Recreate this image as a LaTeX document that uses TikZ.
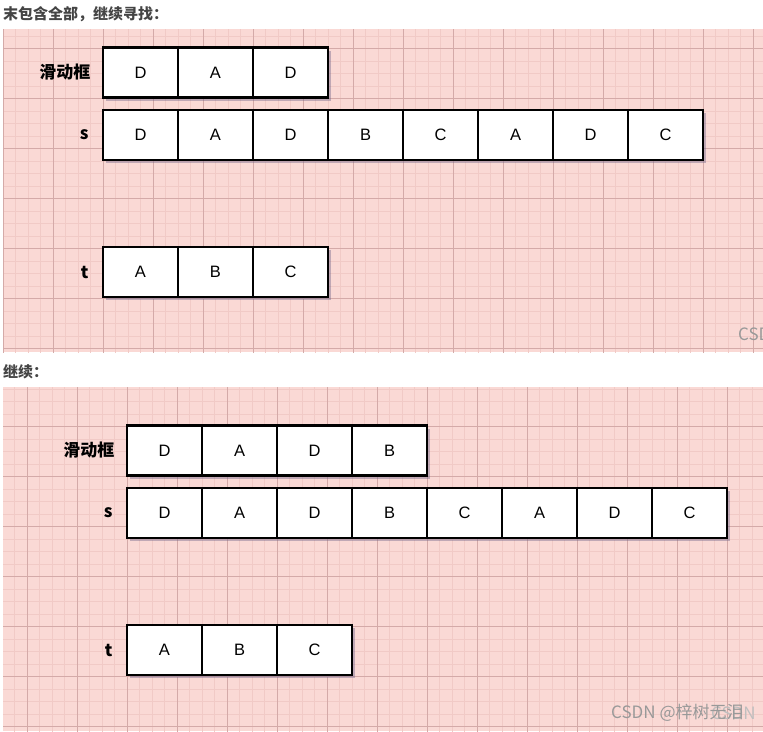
\documentclass[tikz,border=0pt]{standalone}
\usepackage{fontspec}
\setmainfont{Liberation Sans}
\newfontfamily\cjk{Noto Sans CJK SC}
\usetikzlibrary{positioning}
\usetikzlibrary{shadows}
\definecolor{gridbg}{RGB}{250,217,213}
\definecolor{gridminor}{RGB}{241,202,198}
\definecolor{gridmajor}{RGB}{212,170,168}
\definecolor{headgray}{RGB}{68,68,68}
\definecolor{shadowgray}{RGB}{105,95,135}
\tikzset{
  cell/.style={draw, line width=2.5pt, fill=white,
    minimum width=75pt, minimum height=50pt,
    inner sep=0pt, outer sep=0pt,
    font=\fontsize{16.5}{16.5}\selectfont,
    drop shadow={shadow xshift=3pt, shadow yshift=-3pt,
      opacity=0.4, fill=shadowgray}},
  rowlabel/.style={font=\cjk\bfseries\fontsize{17}{17}\selectfont},
  heading/.style={anchor=west, inner sep=0pt, text=headgray,
    font=\cjk\bfseries\fontsize{15}{15}\selectfont},
  watermark/.style={anchor=west, inner sep=0pt, text=black!40,
    font=\cjk\fontsize{17}{17}\selectfont}
}

\begin{document}
\begin{tikzpicture}[x=1pt, y=1pt,
      node distance=0pt]

    \useasboundingbox (0,0) rectangle (763,-731);

    % panel backgrounds with grid
    \begin{scope}
      \clip (3,-29) rectangle (763,-352);
      \fill[gridbg] (3,-29) rectangle (763,-352);
      \begin{scope}[shift={(3,-48.5)}]
        \draw[gridminor, line width=0.6pt, step=12.5] (0,-350) grid (775,25);
        \draw[gridmajor, line width=0.9pt, step=50] (0,-350) grid (800,50);
      \end{scope}
      \node[watermark] (ghostA) at (738,-334) {CSDN};
    \end{scope}
    \begin{scope}
      \clip (3,-387) rectangle (763,-731);
      \fill[gridbg] (3,-387) rectangle (763,-731);
      \begin{scope}[shift={(27,-426.5)}]
        \draw[gridminor, line width=0.6pt, step=12.5] (-25,-350) grid (750,50);
        \draw[gridmajor, line width=0.9pt, step=50] (-50,-350) grid (750,50);
      \end{scope}
      \node[watermark, text=black!25] (ghostB) at (711,-713) {CSDN};
      \node[watermark] (wmB) at (611,-713) {CSDN @梓树无泪};
    \end{scope}

    % headings
    \node[heading]
      (HeadA) at (3,-14) {末包含全部，继续寻找：};
    \node[heading]
      (HeadB) at (3,-372) {继续：};

    % first step
    \node[cell]
      (WinA1) at (140.5,-72.5) {D};
    \node[cell]
      (WinA2) [right=of WinA1] {A};
    \node[cell]
      (WinA3) [right=of WinA2] {D};
    \node[cell]
      (StrA1) [below=12.5pt of WinA1] {D};
    \node[cell]
      (StrA2) [right=of StrA1] {A};
    \node[cell]
      (StrA3) [right=of StrA2] {D};
    \node[cell]
      (StrA4) [right=of StrA3] {B};
    \node[cell]
      (StrA5) [right=of StrA4] {C};
    \node[cell]
      (StrA6) [right=of StrA5] {A};
    \node[cell]
      (StrA7) [right=of StrA6] {D};
    \node[cell]
      (StrA8) [right=of StrA7] {C};
    \node[cell]
      (PatA1) [below=87pt of StrA1] {A};
    \node[cell]
      (PatA2) [right=of PatA1] {B};
    \node[cell]
      (PatA3) [right=of PatA2] {C};

    \node[rowlabel]
      (WinLabelA) [left=9pt of WinA1] {滑动框};
    \node[rowlabel]
      (StrLabelA) [left=11pt of StrA1] {s};
    \node[rowlabel]
      (PatLabelA) [left=11pt of PatA1] {t};

    % second step
    \node[cell]
      (WinB1) at (164.5,-450.5) {D};
    \node[cell]
      (WinB2) [right=of WinB1] {A};
    \node[cell]
      (WinB3) [right=of WinB2] {D};
    \node[cell]
      (WinB4) [right=of WinB3] {B};
    \node[cell]
      (StrB1) [below=12.5pt of WinB1] {D};
    \node[cell]
      (StrB2) [right=of StrB1] {A};
    \node[cell]
      (StrB3) [right=of StrB2] {D};
    \node[cell]
      (StrB4) [right=of StrB3] {B};
    \node[cell]
      (StrB5) [right=of StrB4] {C};
    \node[cell]
      (StrB6) [right=of StrB5] {A};
    \node[cell]
      (StrB7) [right=of StrB6] {D};
    \node[cell]
      (StrB8) [right=of StrB7] {C};
    \node[cell]
      (PatB1) [below=87pt of StrB1] {A};
    \node[cell]
      (PatB2) [right=of PatB1] {B};
    \node[cell]
      (PatB3) [right=of PatB2] {C};

    \node[rowlabel]
      (WinLabelB) [left=9pt of WinB1] {滑动框};
    \node[rowlabel]
      (StrLabelB) [left=11pt of StrB1] {s};
    \node[rowlabel]
      (PatLabelB) [left=11pt of PatB1] {t};

  \end{tikzpicture}
\end{document}
